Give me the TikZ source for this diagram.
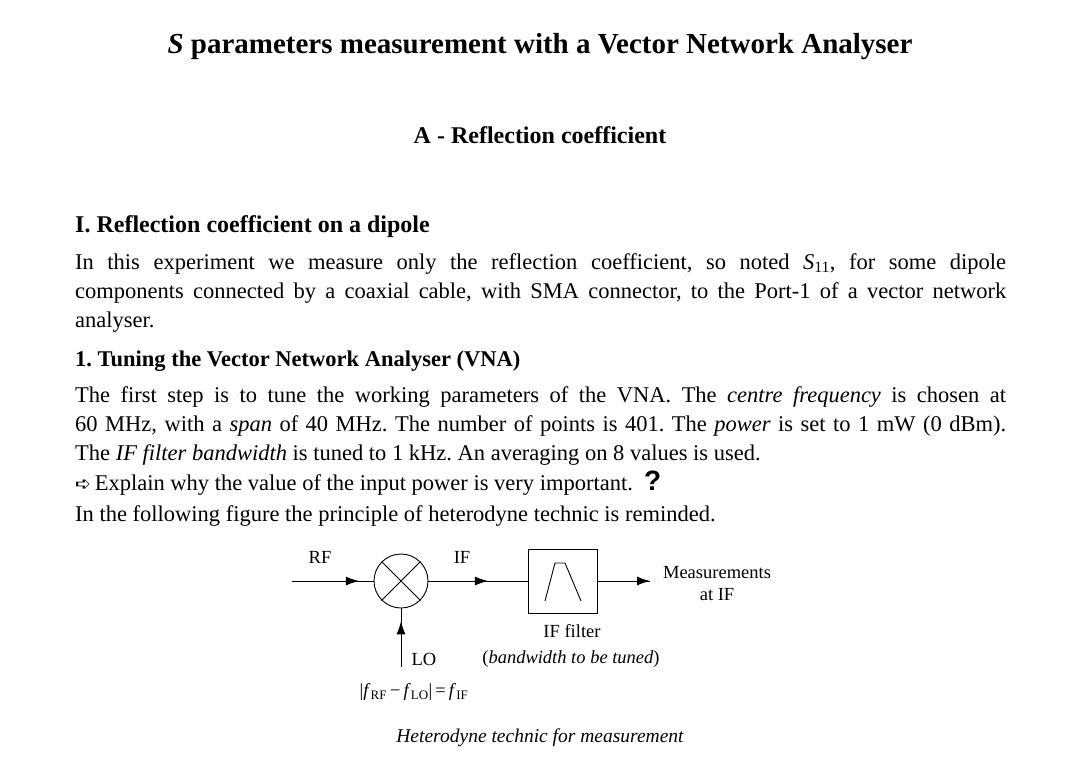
\documentclass[tikz,border=0pt]{standalone}
\usepackage{fontspec}
\setmainfont{Liberation Serif}
\newfontfamily\djv{DejaVu Sans}
\newfontfamily\lsans{Liberation Sans}
\usetikzlibrary{decorations.markings,arrows.meta}
\begin{document}
\frenchspacing
\begin{tikzpicture}[x=1pt,y=-1pt,
  body/.style={anchor=north west,inner sep=0,text width=931pt,align=justify,font=\fontsize{22.5}{29}\selectfont},
  dg/.style={font=\fontsize{18.5}{22}\selectfont,inner sep=0},
  sig/.style={line width=0.9pt,postaction={decorate},decoration={markings,mark=at position #1 with {\arrow{Latex[length=13pt,width=9pt]}}}},
  sig/.default=0.75]
\fill[white] (0,0) rectangle (1080,769);
\useasboundingbox (0,0) rectangle (1080,769);
\begin{scope}
\clip (0,0) rectangle (1080,769);
\node[font=\fontsize{29}{32}\bfseries] (title) at (540,47) {\textit{S} parameters measurement with a Vector Network Analyser};
\node[font=\fontsize{24}{28}\bfseries] (sub) at (540,135) {A - Reflection coefficient};
\node[anchor=west,inner sep=0,font=\fontsize{24}{28}\bfseries] (h1) at (75,227) {I. Reflection coefficient on a dipole};
\node[body] (p1) at (75,253) {In this experiment we measure only the reflection coefficient, so noted \textit{S}\textsubscript{11}, for some dipole\linebreak components connected by a coaxial cable, with SMA connector, to the Port-1 of a vector network\linebreak analyser.};
\node[anchor=west,inner sep=0,font=\fontsize{22.5}{26}\bfseries] (h2) at (75,361) {1. Tuning the Vector Network Analyser (VNA)};
\node[body] (p2) at (75,386) {The first step is to tune the working parameters of the VNA. The \textit{centre frequency} is chosen at\linebreak 60~MHz, with a \textit{span} of 40~MHz. The number of points is 401. The \textit{power} is set to 1~mW (0~dBm).\linebreak The \textit{IF filter bandwidth} is tuned to 1~kHz. An averaging on 8 values is used.};
\node[anchor=west,inner sep=0,font=\fontsize{22.5}{26}\selectfont] (q) at (75,483) {{\djv\fontsize{19}{20}\selectfont ➪}\,Explain why the value of the input power is very important.\ \ {\lsans\bfseries\fontsize{28}{28}\selectfont ?}};
\node[anchor=west,inner sep=0,font=\fontsize{22.5}{26}\selectfont] (p3) at (75,516) {In the following figure the principle of heterodyne technic is reminded.};
\node[anchor=west,inner sep=0,font=\fontsize{22.5}{26}\bfseries] (h3) at (75,781) {2. Calibration};

% diagram
\coordinate (rfin) at (292,581);
\node[draw,circle,minimum size=54pt,line width=0.9pt,inner sep=0] (mix) at (401,581) {};
\draw[line width=0.9pt] (mix.north east) -- (mix.south west) (mix.north west) -- (mix.south east);
\node[draw,minimum width=69pt,minimum height=64pt,line width=0.9pt,inner sep=0] (filt) at (562.5,581) {};
\coordinate (out) at (650,581);
\coordinate (lo) at (401,667);
\draw[sig=0.82] (rfin) -- (mix);
\draw[sig=0.6] (mix) -- (filt);
\draw[sig=1] (filt) -- (out);
\draw[sig=0.78] (lo) -- (mix);
\draw[line width=0.9pt] (545,601) -- (555,563) -- (565,563) -- (581,601);
\node[dg] (rf) at (320,557) {RF};
\node[dg] (if) at (462,557) {IF};
\node[dg,align=center] (meas) at (717,584) {Measurements\\at IF};
\node[dg] (lol) at (424,659) {LO};
\node[dg] (ifl) at (572,631) {IF filter};
\node[dg] (bw) at (571,659) {(\textit{bandwidth to be tuned})};
\node[dg] (eq) at (414,692) {|\textit{f}\textsubscript{RF}\,−\,\textit{f}\textsubscript{LO}|\,=\,\textit{f}\textsubscript{IF}};
\node[dg,font=\fontsize{19.5}{22}\itshape] (cap) at (540,738) {Heterodyne technic for measurement};
\end{scope}
\end{tikzpicture}
\end{document}
